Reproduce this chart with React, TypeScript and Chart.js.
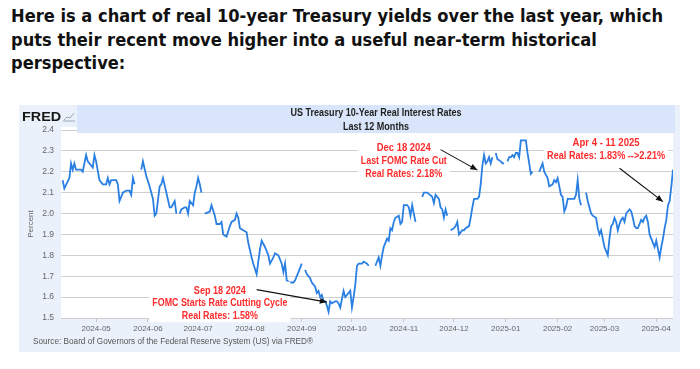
import React, { useEffect, useRef } from 'react';
import { Chart, registerables } from 'chart.js';

Chart.register(...registerables);

const HEADING_LINES = [
  'Here is a chart of real 10-year Treasury yields over the last year, which',
  'puts their recent move higher into a useful near-term historical',
  'perspective:',
];
const CHART_TITLE = ['US Treasury 10-Year Real Interest Rates', 'Last 12 Months'];
const Y_TITLE = 'Percent';
const SOURCE_TEXT = 'Source: Board of Governors of the Federal Reserve System (US) via FRED\u00ae';

// Observation dates (null values = market holidays, drawn as gaps)
const DATES = [
  '2024-04-11','2024-04-12','2024-04-15','2024-04-16','2024-04-17','2024-04-18','2024-04-19','2024-04-22','2024-04-23','2024-04-25',
  '2024-04-26','2024-04-28','2024-04-29','2024-04-30','2024-05-01','2024-05-03','2024-05-05','2024-05-07','2024-05-08','2024-05-09',
  '2024-05-10','2024-05-13','2024-05-14','2024-05-15','2024-05-17','2024-05-19','2024-05-21','2024-05-22','2024-05-23','2024-05-24',
  '2024-05-27','2024-05-28','2024-05-29','2024-05-31','2024-06-02','2024-06-04','2024-06-05','2024-06-06','2024-06-08','2024-06-09',
  '2024-06-10','2024-06-12','2024-06-14','2024-06-15','2024-06-17','2024-06-18','2024-06-19',
  '2024-06-20','2024-06-21','2024-06-23','2024-06-24','2024-06-25','2024-06-26','2024-06-28','2024-06-29','2024-06-30','2024-07-01',
  '2024-07-02','2024-07-03','2024-07-04','2024-07-05','2024-07-08','2024-07-09','2024-07-11','2024-07-12','2024-07-14','2024-07-15',
  '2024-07-16','2024-07-18','2024-07-20','2024-07-21','2024-07-23','2024-07-24','2024-07-25','2024-07-26','2024-07-28','2024-07-30',
  '2024-07-31','2024-08-02','2024-08-03','2024-08-05','2024-08-07','2024-08-08','2024-08-10','2024-08-12','2024-08-13','2024-08-15',
  '2024-08-16','2024-08-18','2024-08-20','2024-08-21','2024-08-22','2024-08-23','2024-08-25','2024-08-27','2024-08-28','2024-08-30',
  '2024-09-01','2024-09-02',
  '2024-09-03','2024-09-04','2024-09-06','2024-09-07','2024-09-09','2024-09-10','2024-09-11','2024-09-12','2024-09-13','2024-09-14',
  '2024-09-15','2024-09-16','2024-09-17','2024-09-18','2024-09-19','2024-09-21','2024-09-22','2024-09-23','2024-09-24','2024-09-25',
  '2024-09-26','2024-09-27','2024-09-28','2024-09-29','2024-09-30','2024-10-01','2024-10-02','2024-10-03','2024-10-04','2024-10-05',
  '2024-10-07','2024-10-08','2024-10-10','2024-10-11','2024-10-14','2024-10-15','2024-10-17','2024-10-18','2024-10-19','2024-10-20',
  '2024-10-21','2024-10-22','2024-10-23','2024-10-24','2024-10-25','2024-10-26','2024-10-27','2024-10-29','2024-10-30','2024-10-31',
  '2024-11-01','2024-11-03','2024-11-04','2024-11-05','2024-11-06','2024-11-07','2024-11-08','2024-11-11',
  '2024-11-12','2024-11-13','2024-11-15','2024-11-18','2024-11-19','2024-11-20','2024-11-22','2024-11-23','2024-11-24','2024-11-25',
  '2024-11-26','2024-11-27','2024-11-28','2024-11-29','2024-12-01','2024-12-02','2024-12-03','2024-12-04','2024-12-06','2024-12-07',
  '2024-12-08','2024-12-10','2024-12-11','2024-12-12','2024-12-13','2024-12-15','2024-12-16','2024-12-17','2024-12-18','2024-12-19',
  '2024-12-20','2024-12-21','2024-12-22','2024-12-23','2024-12-24','2024-12-25','2024-12-26','2024-12-27','2024-12-29','2024-12-30',
  '2024-12-31','2025-01-01','2025-01-02','2025-01-03','2025-01-04','2025-01-05','2025-01-06','2025-01-07','2025-01-08','2025-01-09',
  '2025-01-10','2025-01-11','2025-01-13','2025-01-14','2025-01-15','2025-01-16','2025-01-17','2025-01-20',
  '2025-01-21','2025-01-22','2025-01-23','2025-01-24','2025-01-26','2025-01-27','2025-01-29','2025-01-30','2025-01-31','2025-02-01',
  '2025-02-02','2025-02-03','2025-02-04','2025-02-05','2025-02-06','2025-02-07','2025-02-09','2025-02-11','2025-02-12','2025-02-13',
  '2025-02-14','2025-02-15','2025-02-17','2025-02-18','2025-02-19','2025-02-21','2025-02-22','2025-02-24','2025-02-25','2025-02-26',
  '2025-02-27','2025-02-28','2025-03-01','2025-03-02','2025-03-03','2025-03-04','2025-03-05','2025-03-06','2025-03-07','2025-03-08',
  '2025-03-09','2025-03-10','2025-03-11','2025-03-12','2025-03-13','2025-03-14','2025-03-15','2025-03-16','2025-03-17','2025-03-18',
  '2025-03-19','2025-03-20','2025-03-21','2025-03-22','2025-03-23','2025-03-24','2025-03-25','2025-03-26','2025-03-27','2025-03-28',
  '2025-03-29','2025-03-30','2025-03-31','2025-04-01','2025-04-02','2025-04-03','2025-04-04','2025-04-05','2025-04-06','2025-04-07',
  '2025-04-08','2025-04-09','2025-04-10','2025-04-11',
];

// Real 10-year yield, percent
const VALUES: (number | null)[] = [
  2.16, 2.12, 2.17, 2.24, 2.21, 2.24, 2.21, 2.21, 2.20, 2.28,
  2.25, 2.23, 2.22, 2.28, 2.25, 2.16, 2.14, 2.14, 2.17, 2.14,
  2.16, 2.16, 2.14, 2.06, 2.10, 2.11, 2.11, 2.09, 2.17, 2.14,
  null, 2.21, 2.25, 2.18, 2.13, 2.07, 1.99, 2.00, 2.13, 2.14,
  2.17, 2.10, 2.03, 2.03, 2.06, 2.00, null,
  2.00, 2.02, 2.03, 2.03, 2.00, 2.06, 2.04, 2.10, 2.13, 2.17,
  2.14, 2.10, null, 2.00, 2.01, 2.04, 1.99, 1.95, 1.95, 1.96,
  1.90, 1.89, 1.94, 1.96, 1.97, 2.00, 1.98, 1.93, 1.92, 1.91,
  1.86, 1.79, 1.76, 1.71, 1.83, 1.87, 1.84, 1.80, 1.76, 1.79,
  1.81, 1.80, 1.76, 1.72, 1.76, 1.68, 1.67, 1.67, 1.68, 1.72,
  1.76, null,
  1.73, 1.71, 1.69, 1.67, 1.65, 1.62, 1.63, 1.60, 1.61, 1.58,
  1.58, 1.56, 1.53, 1.58, 1.57, 1.58, 1.58, 1.57, 1.55, 1.59,
  1.63, 1.60, 1.61, 1.62, 1.63, 1.55, 1.60, 1.66, 1.75, 1.76,
  1.76, 1.77, 1.76, 1.75, null, 1.75, 1.79, 1.75, 1.80, 1.84,
  1.86, 1.88, 1.87, 1.93, 1.92, 1.96, 1.98, 1.99, 1.95, 1.96,
  2.04, 2.04, 2.03, 1.99, 2.04, 2.00, 1.96, null,
  2.08, 2.10, 2.10, 2.08, 2.05, 2.09, 2.07, 2.03, 2.02, 1.98,
  2.02, 1.99, null, 1.92, 1.93, 1.94, 1.96, 1.90, 1.92, 1.92,
  1.93, 1.94, 1.98, 2.03, 2.07, 2.07, 2.08, 2.14, 2.23, 2.28,
  2.24, 2.25, 2.27, 2.24, 2.27, null, 2.29, 2.26, 2.25, 2.24,
  2.24, null, 2.25, 2.27, 2.27, 2.28, 2.27, 2.29, 2.29, 2.27,
  2.35, 2.35, 2.35, 2.29, 2.24, 2.19, 2.20, null,
  2.20, 2.22, 2.24, 2.20, 2.17, 2.13, 2.14, 2.16, 2.15, 2.17,
  2.13, 2.09, 2.08, 2.01, 2.03, 2.07, 2.07, 2.07, 2.09, 2.16,
  2.07, 2.04, null, 2.10, 2.06, 2.00, 1.99, 1.98, 1.93, 1.90,
  1.92, 1.88, 1.84, 1.82, 1.80, 1.88, 1.94, 1.95, 1.98, 1.96,
  1.92, 1.95, 1.97, 1.98, 1.96, 2.00, 2.01, 2.02, 2.01, 1.98,
  1.94, 1.93, 1.93, 1.95, 1.97, 1.96, 1.98, 1.99, 1.96, 1.90,
  1.88, 1.86, 1.84, 1.87, 1.83, 1.79, 1.84, 1.88, 1.93, 1.97,
  2.04, 2.06, 2.13, 2.21,
];

const X_START = '2024-04-10';
const X_END = '2025-04-11';
const MONTH_TICKS = [
  '2024-05-01','2024-06-01','2024-07-01','2024-08-01','2024-09-01','2024-10-01',
  '2024-11-01','2024-12-01','2025-01-01','2025-02-01','2025-03-01','2025-04-01',
];
const Y_TICKS = [1.5, 1.6, 1.7, 1.8, 1.9, 2.0, 2.1, 2.2, 2.3, 2.4];

const NOTES = [
  { lines: ['Sep 18 2024', 'FOMC Starts Rate Cutting Cycle', 'Real Rates: 1.58%'], date: '2024-07-14', value: 1.631, widths: [52, 135, 76] },
  { lines: ['Dec 18 2024', 'Last FOMC Rate Cut', 'Real Rates: 2.18%'], date: '2024-11-01', value: 2.311, widths: [54, 86, 77] },
  { lines: ['Apr 4 - 11 2025', 'Real Rates: 1.83% -->2.21%'], date: '2025-03-02', value: 2.337, widths: [67, 118] },
];
const ARROWS = [
  { from: ['2024-08-05', 1.636], to: ['2024-09-16', 1.576] },
  { from: ['2024-11-23', 2.306], to: ['2024-12-15', 2.208] },
  { from: ['2025-03-10', 2.217], to: ['2025-04-05', 2.057] },
];

const LINE_BLUE = '#2a7fe3';
const NOTE_RED = '#ff2b2b';
const PANEL_BG = '#eaf1fa';
const BAND_BG = '#d9e5fa';
const NARROW = "'Liberation Sans Narrow', 'Arial Narrow', 'Liberation Sans', Arial, sans-serif";
const SANS = "'Liberation Sans', Arial, sans-serif";

const toDay = (s: string) => {
  const [y, m, d] = s.split('-').map(Number);
  return Date.UTC(y, m - 1, d) / 86400000;
};
const monthLabel = (v: number) => {
  const dt = new Date(v * 86400000);
  return `${dt.getUTCFullYear()}-${String(dt.getUTCMonth() + 1).padStart(2, '0')}`;
};

function drawArrow(ctx: CanvasRenderingContext2D, x1: number, y1: number, x2: number, y2: number) {
  ctx.strokeStyle = '#111';
  ctx.fillStyle = '#111';
  ctx.lineWidth = 1.1;
  ctx.beginPath();
  ctx.moveTo(x1, y1);
  ctx.lineTo(x2, y2);
  ctx.stroke();
  const a = Math.atan2(y2 - y1, x2 - x1);
  const L = 7, W = 3;
  const c = Math.cos(a), s = Math.sin(a);
  ctx.beginPath();
  ctx.moveTo(x2, y2);
  ctx.lineTo(x2 - L * c + W * s, y2 - L * s - W * c);
  ctx.lineTo(x2 - L * c - W * s, y2 - L * s + W * c);
  ctx.closePath();
  ctx.fill();
}

const decorPlugin = {
  id: 'fredDecor',
  beforeDraw(chart: any) {
    const { ctx, chartArea: a, width, height } = chart;
    ctx.save();
    ctx.fillStyle = PANEL_BG;
    ctx.fillRect(0, 0, width, height);
    ctx.fillStyle = '#ffffff';
    ctx.fillRect(a.left, a.top - 3, a.right - a.left, a.bottom - a.top + 3);
    ctx.restore();
  },
  afterDatasetsDraw(chart: any) {
    const { ctx } = chart;
    const xs = chart.scales.x, ys = chart.scales.y;
    const GAP = 12.8;
    ctx.save();
    for (const n of NOTES) {
      const cx = xs.getPixelForValue(toDay(n.date));
      const y0 = ys.getPixelForValue(n.value);
      const maxW = Math.max(...n.widths);
      const yl = y0 + (n.lines.length - 1) * GAP;
      ctx.fillStyle = '#ffffff';
      ctx.fillRect(cx - maxW / 2 - 3, y0 - 9, maxW + 6, yl - y0 + 15);
      ctx.fillStyle = NOTE_RED;
      ctx.font = `bold 10.5px ${NARROW}`;
      ctx.textAlign = 'center';
      ctx.textBaseline = 'middle';
      n.lines.forEach((t, i) => ctx.fillText(t, cx, y0 + i * GAP, n.widths[i]));
    }
    for (const ar of ARROWS) {
      drawArrow(
        ctx,
        xs.getPixelForValue(toDay(ar.from[0] as string)), ys.getPixelForValue(ar.from[1] as number),
        xs.getPixelForValue(toDay(ar.to[0] as string)), ys.getPixelForValue(ar.to[1] as number),
      );
    }
    ctx.restore();
  },
  afterDraw(chart: any) {
    const { ctx } = chart;
    ctx.save();
    // title band
    ctx.fillStyle = BAND_BG;
    ctx.fillRect(58, 0, 598, 28);
    ctx.fillStyle = '#222';
    ctx.font = `bold 10.6px ${NARROW}`;
    ctx.textAlign = 'center';
    ctx.textBaseline = 'middle';
    ctx.fillText(CHART_TITLE[0], 357, 8.5, 171);
    ctx.fillText(CHART_TITLE[1], 357, 21.7, 66);
    // FRED logo
    ctx.save();
    ctx.translate(3, 16);
    ctx.scale(1.15, 1);
    ctx.fillStyle = '#161616';
    ctx.font = `bold 12.5px ${SANS}`;
    ctx.textAlign = 'left';
    ctx.textBaseline = 'alphabetic';
    ctx.fillText('FRED', 0, 0);
    ctx.restore();
    ctx.strokeStyle = '#9aa8b8';
    ctx.lineWidth = 1;
    ctx.beginPath();
    ctx.moveTo(45, 15); ctx.lineTo(48, 12); ctx.lineTo(51, 13); ctx.lineTo(55, 8);
    ctx.stroke();
    ctx.beginPath();
    ctx.moveTo(44, 16); ctx.lineTo(56, 16);
    ctx.stroke();
    // source
    ctx.fillStyle = '#555';
    ctx.font = `8.3px ${SANS}`;
    ctx.textAlign = 'left';
    ctx.textBaseline = 'middle';
    ctx.fillText(SOURCE_TEXT, 14, 237, 280);
    ctx.restore();
  },
};

export default function App() {
  const canvasRef = useRef<HTMLCanvasElement>(null);
  const headRef = useRef<HTMLDivElement>(null);
  const line1Ref = useRef<HTMLSpanElement>(null);

  useEffect(() => {
    const sp = line1Ref.current, hd = headRef.current;
    if (sp && hd) {
      const w = sp.getBoundingClientRect().width;
      if (w > 0) hd.style.transform = `scaleX(${652 / w})`;
    }
    const canvas = canvasRef.current;
    if (!canvas) return;
    const chart = new Chart(canvas, {
      type: 'line',
      data: {
        datasets: [
          {
            data: DATES.map((d, i) => ({ x: toDay(d), y: VALUES[i] })),
            borderColor: LINE_BLUE,
            borderWidth: 1.8,
            pointRadius: 0,
            tension: 0,
            spanGaps: false,
            fill: false,
          },
        ],
      },
      options: {
        responsive: false,
        animation: false,
        devicePixelRatio: 1,
        layout: { padding: { top: 25, right: 7, left: 0, bottom: 0 } },
        plugins: { legend: { display: false }, tooltip: { enabled: false }, title: { display: false } },
        scales: {
          x: {
            type: 'linear',
            min: toDay(X_START),
            max: toDay(X_END),
            afterBuildTicks: (s: any) => { s.ticks = MONTH_TICKS.map((m) => ({ value: toDay(m) })); },
            afterFit: (s: any) => { s.height = 34; },
            ticks: {
              autoSkip: false, maxRotation: 0, padding: 2, color: '#666',
              font: { size: 8, family: SANS },
              callback: (v: any) => monthLabel(Number(v)),
            },
            grid: { drawOnChartArea: false, drawTicks: true, tickLength: 4, color: '#c8c8c8' },
            border: { display: false },
          },
          y: {
            min: Y_TICKS[0],
            max: Y_TICKS[Y_TICKS.length - 1],
            afterBuildTicks: (s: any) => { s.ticks = Y_TICKS.map((v) => ({ value: v })); },
            afterFit: (s: any) => { s.width = 42; },
            ticks: {
              padding: 7, color: '#666', font: { size: 8.5, family: SANS },
              callback: (v: any) => Number(v).toFixed(1),
            },
            grid: { color: '#cfcfcf', lineWidth: 1, drawTicks: false },
            border: { display: false },
            title: { display: true, text: Y_TITLE, color: '#666', font: { size: 8, family: SANS }, padding: { top: 7, bottom: 0 } },
          },
        },
      },
      plugins: [decorPlugin],
    } as any);
    return () => chart.destroy();
  }, []);

  return (
    <div style={{ position: 'fixed', left: 0, top: 0, width: 700, height: 369, background: '#fff', overflow: 'hidden' }}>
      <div
        ref={headRef}
        style={{
          position: 'absolute', left: 11, top: 5, transformOrigin: '0 0',
          fontFamily: "'DejaVu Sans', Verdana, sans-serif", fontStretch: 'condensed', fontWeight: 'bold',
          fontSize: 17, lineHeight: '23.5px', color: '#111', whiteSpace: 'nowrap',
        }}
      >
        {HEADING_LINES.map((t, i) => (
          <span key={i} ref={i === 0 ? line1Ref : undefined} style={{ display: 'block', width: 'fit-content' }}>{t}</span>
        ))}
      </div>
      <div style={{ position: 'absolute', left: 19, top: 105, width: 661, height: 247 }}>
        <canvas ref={canvasRef} width={661} height={247} style={{ display: 'block' }} />
      </div>
    </div>
  );
}
